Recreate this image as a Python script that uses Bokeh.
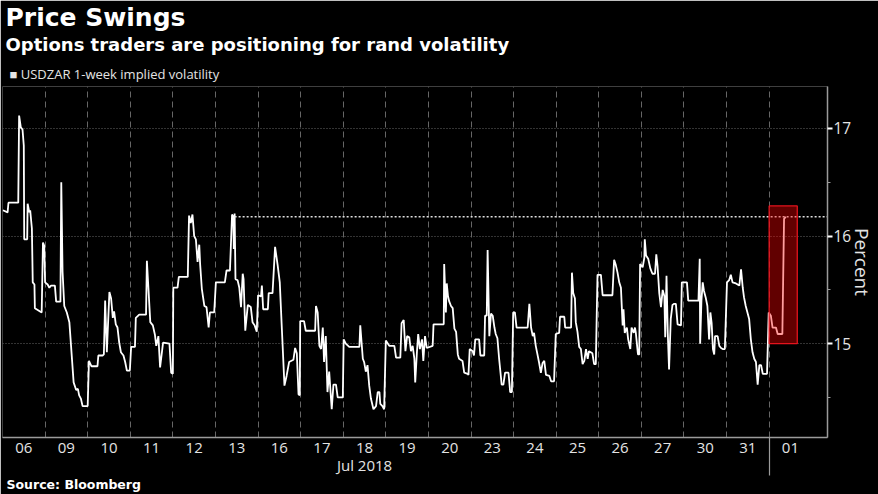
from bokeh.plotting import figure
from bokeh.models import Range1d, FixedTicker, LinearAxis, Title
from bokeh.embed import file_html
from bokeh.resources import INLINE

# Trading sessions shown on the x axis (Jul 6 .. Aug 1, 2018)
day_labels = ["06", "09", "10", "11", "12", "13", "16", "17", "18", "19",
              "20", "23", "24", "25", "26", "27", "30", "31", "01"]
month_label = "Jul 2018"
month_label_pos = 8.5
month_break = 18.0
series_name = "USDZAR 1-week implied volatility"

# Intraday USDZAR 1-week implied vol; position = trading days since the Jul 6 open
session_pos = [
    # Jul 06
    0.01, 0.12, 0.14, 0.37, 0.39, 0.43, 0.47, 0.50, 0.51, 0.58, 0.59, 0.63, 0.65, 0.69, 0.71, 0.75, 0.76, 0.92, 0.95, 0.98,
    # Jul 09
    1.00, 1.06, 1.10, 1.14, 1.23, 1.26, 1.36, 1.38, 1.41, 1.45, 1.51, 1.57, 1.67, 1.73, 1.77, 1.80, 1.84, 1.88, 2.00,
    # Jul 10
    2.03, 2.09, 2.23, 2.25, 2.35, 2.38, 2.41, 2.45, 2.51, 2.55, 2.59, 2.62, 2.66, 2.70, 2.74, 2.78, 2.84, 2.88, 2.92, 2.99,
    # Jul 11
    3.02, 3.11, 3.13, 3.21, 3.37, 3.39, 3.47, 3.53, 3.58, 3.61, 3.66, 3.70, 3.77, 3.92, 3.96, 4.00,
    # Jul 12
    4.01, 4.11, 4.14, 4.35, 4.38, 4.42, 4.46, 4.50, 4.54, 4.58, 4.62, 4.64, 4.68, 4.74, 4.79, 4.84, 4.87, 4.97,
    # Jul 13
    5.01, 5.22, 5.26, 5.34, 5.39, 5.42, 5.43, 5.45, 5.47, 5.52, 5.56, 5.60, 5.64, 5.66, 5.70, 5.76, 5.83, 5.87, 5.92, 5.97,
    # Jul 16
    6.00, 6.07, 6.09, 6.12, 6.23, 6.25, 6.34, 6.40, 6.46, 6.51, 6.56, 6.62, 6.67, 6.73, 6.83, 6.87, 6.91, 6.95, 6.98,
    # Jul 17
    6.99, 7.08, 7.12, 7.34, 7.36, 7.40, 7.44, 7.48, 7.52, 7.55, 7.59, 7.63, 7.67, 7.73, 7.77, 7.83, 7.87, 7.99,
    # Jul 18
    8.01, 8.06, 8.14, 8.38, 8.40, 8.46, 8.49, 8.53, 8.57, 8.61, 8.65, 8.71, 8.77, 8.81, 8.85, 8.87, 8.92, 8.96,
    # Jul 19
    9.00, 9.08, 9.20, 9.24, 9.34, 9.37, 9.42, 9.46, 9.50, 9.55, 9.59, 9.63, 9.67, 9.69, 9.73, 9.76, 9.80, 9.85, 9.88, 9.92, 9.96,
    # Jul 20
    10.10, 10.12, 10.36, 10.37, 10.41, 10.43, 10.46, 10.49, 10.53, 10.57, 10.61, 10.65, 10.69, 10.72, 10.80, 10.84, 10.92, 10.94,
    # Jul 23
    10.97, 11.04, 11.07, 11.10, 11.19, 11.22, 11.31, 11.33, 11.37, 11.39, 11.43, 11.47, 11.51, 11.55, 11.58, 11.62, 11.66, 11.72,
    11.76, 11.80, 11.88, 11.92, 11.96,
    # Jul 24
    11.99, 12.03, 12.07, 12.33, 12.37, 12.41, 12.45, 12.48, 12.52, 12.56, 12.60, 12.64, 12.68, 12.72, 12.76, 12.84, 12.88, 12.95,
    # Jul 25
    12.99, 13.07, 13.09, 13.19, 13.21, 13.35, 13.37, 13.40, 13.44, 13.46, 13.50, 13.54, 13.58, 13.62, 13.66, 13.70, 13.74, 13.77,
    13.85, 13.89, 13.93,
    # Jul 26
    13.97, 14.05, 14.09, 14.32, 14.36, 14.40, 14.44, 14.48, 14.52, 14.56, 14.58, 14.61, 14.66, 14.69, 14.74, 14.77, 14.82, 14.85,
    14.87, 14.92, 14.95,
    # Jul 27
    14.97, 15.03, 15.07, 15.08, 15.11, 15.16, 15.21, 15.26, 15.32, 15.35, 15.38, 15.42, 15.46, 15.50, 15.54, 15.56, 15.59, 15.62,
    15.65, 15.69, 15.73, 15.77, 15.81, 15.85, 15.93,
    # Jul 30
    15.95, 16.07, 16.10, 16.34, 16.37, 16.38, 16.41, 16.44, 16.47, 16.51, 16.55, 16.59, 16.62, 16.65, 16.68, 16.71, 16.73, 16.79,
    16.83, 16.87, 16.91, 16.96,
    # Jul 31
    17.01, 17.06, 17.10, 17.14, 17.22, 17.30, 17.34, 17.38, 17.41, 17.45, 17.49, 17.53, 17.57, 17.61, 17.65, 17.69, 17.73, 17.77,
    17.81, 17.85, 17.95,
    # Aug 01
    17.99, 18.04, 18.08, 18.16, 18.20, 18.31, 18.35, 18.39,
]

implied_vol = [
    # Jul 06
    16.24, 16.22, 16.31, 16.31, 17.12, 17.01, 16.99, 16.84, 15.97, 15.97, 16.30, 16.22, 16.24, 16.07, 15.57, 15.55, 15.33, 15.29, 15.94, 15.91,
    # Jul 09
    15.57, 15.55, 15.52, 15.54, 15.54, 15.39, 15.39, 16.50, 15.67, 15.35, 15.29, 15.20, 14.64, 14.57, 14.58, 14.52, 14.49, 14.42, 14.42,
    # Jul 10
    14.84, 14.79, 14.79, 14.89, 14.89, 14.90, 15.40, 14.92, 15.48, 15.42, 15.24, 15.30, 15.18, 15.15, 15.01, 14.92, 14.89, 14.83, 14.75, 14.75,
    # Jul 11
    14.97, 14.97, 15.24, 15.27, 15.27, 15.77, 15.20, 15.17, 15.08, 14.98, 15.07, 14.78, 15.01, 15.00, 14.73, 14.72,
    # Jul 12
    15.52, 15.52, 15.62, 15.62, 16.19, 16.12, 16.20, 16.00, 15.97, 15.76, 15.92, 15.74, 15.51, 15.35, 15.34, 15.15, 15.29, 15.29,
    # Jul 13
    15.57, 15.57, 15.68, 15.68, 16.20, 16.18, 15.88, 16.21, 15.60, 15.59, 15.52, 15.34, 15.65, 15.60, 15.12, 15.36, 15.34, 15.20, 15.17, 15.11,
    # Jul 16
    15.45, 15.44, 15.54, 15.32, 15.32, 15.47, 15.47, 15.90, 15.73, 15.57, 15.13, 14.61, 14.70, 14.83, 14.85, 14.96, 14.91, 14.53, 14.52,
    # Jul 17
    15.21, 15.21, 15.12, 15.12, 15.35, 15.29, 14.98, 14.95, 15.15, 14.83, 15.07, 14.55, 14.74, 14.39, 14.62, 14.62, 14.50, 14.50,
    # Jul 18
    15.04, 15.00, 14.97, 14.97, 15.17, 14.86, 14.83, 14.74, 14.80, 14.61, 14.49, 14.39, 14.42, 14.55, 14.55, 14.44, 14.42, 14.39,
    # Jul 19
    15.03, 14.98, 14.98, 14.87, 14.87, 15.19, 15.22, 14.93, 15.07, 15.06, 14.93, 14.98, 14.86, 14.64, 14.92, 15.09, 14.95, 15.04, 14.84, 15.07, 14.96,
    # Jul 20
    14.98, 15.18, 15.18, 15.74, 15.29, 15.56, 15.44, 15.39, 15.35, 15.33, 15.14, 15.11, 14.90, 14.86, 14.84, 14.73, 14.72, 14.71,
    # Jul 23
    14.95, 14.93, 14.89, 15.04, 15.04, 14.89, 14.89, 15.26, 15.26, 15.87, 15.07, 15.28, 15.26, 15.15, 15.09, 15.05, 14.86, 14.62,
    14.62, 14.73, 14.73, 14.55, 14.55,
    # Jul 24
    15.29, 15.29, 15.15, 15.15, 15.37, 15.15, 15.07, 15.10, 14.98, 14.90, 14.82, 14.73, 14.82, 14.84, 14.71, 14.70, 14.65, 14.65,
    # Jul 25
    15.09, 15.10, 15.25, 15.25, 15.15, 15.15, 15.66, 15.47, 15.42, 15.20, 15.11, 14.97, 14.95, 14.81, 14.84, 14.95, 14.86, 14.93,
    14.91, 14.81, 14.81,
    # Jul 26
    15.64, 15.64, 15.45, 15.45, 15.78, 15.73, 15.66, 15.57, 15.52, 15.17, 15.32, 15.10, 15.15, 15.04, 14.95, 15.15, 15.10, 15.15,
    15.10, 14.90, 14.90,
    # Jul 27
    15.74, 15.71, 15.80, 15.97, 15.82, 15.79, 15.70, 15.65, 15.65, 15.83, 15.72, 15.47, 15.34, 15.50, 15.44, 15.06, 15.63, 15.10,
    14.76, 15.23, 15.36, 15.37, 15.37, 15.18, 15.17,
    # Jul 30
    15.57, 15.57, 15.40, 15.40, 15.79, 15.00, 15.40, 15.57, 15.49, 15.43, 15.35, 15.04, 15.29, 15.19, 14.95, 14.90, 15.07, 15.07,
    14.98, 14.96, 14.95, 14.95,
    # Jul 31
    15.57, 15.59, 15.64, 15.57, 15.56, 15.54, 15.69, 15.52, 15.43, 15.35, 15.29, 15.23, 15.04, 14.92, 14.86, 14.83, 14.62, 14.80,
    14.80, 14.72, 14.72,
    # Aug 01
    15.29, 15.26, 15.15, 15.15, 15.09, 15.09, 16.16, 16.18,
]

# Highlighted latest session
highlight_left, highlight_right = 18.0, 18.66
highlight_bottom, highlight_top = 15.0, 16.28

x_start, x_end = 0.0, 19.37
y_start, y_end = 14.128, 17.39

GRID = "#666666"
AXIS = "#9b9b9b"
TEXT = "#e4e4e4"

p = figure(width=878, height=494, output_backend="svg", toolbar_location=None,
           x_range=Range1d(x_start, x_end), y_range=Range1d(y_start, y_end),
           y_axis_location="right",
           background_fill_color="black", border_fill_color="black",
           min_border_left=2, min_border_right=51, min_border_top=86, min_border_bottom=57)
p.outline_line_color = None

# Header: headline on top, then the subtitle, then the series key next to the plot
p.title.text = "Price Swings"
p.title.text_color = "white"
p.title.text_font = "DejaVu Sans"
p.title.text_font_size = "25px"
p.title.text_font_style = "bold"
p.title.align = "left"
p.title.offset = 3
p.title.standoff = -8

p.add_layout(Title(text="\u25a0 " + series_name,
                   text_color=TEXT, text_font="Open Sans",
                   text_font_size="13px", text_font_style="normal",
                   align="left", offset=7, standoff=8), "above")
p.add_layout(Title(text="Options traders are positioning for rand volatility",
                   text_color="white", text_font="DejaVu Sans",
                   text_font_size="18px", text_font_style="bold",
                   align="left", offset=3, standoff=8), "above")

# Right value axis
yax = p.yaxis[0]
yax.ticker = FixedTicker(ticks=[15, 16, 17], minor_ticks=[14.5, 15.5, 16.5])
yax.axis_line_color = AXIS
yax.axis_line_width = 1.5
yax.major_tick_line_color = "white"
yax.major_tick_line_width = 2
yax.major_tick_out = 5
yax.major_tick_in = 0
yax.minor_tick_line_color = AXIS
yax.minor_tick_out = 3
yax.minor_tick_in = 0
yax.major_label_text_color = TEXT
yax.major_label_text_font = "Open Sans"
yax.major_label_text_font_size = "15.5px"
yax.major_label_standoff = 1
yax.axis_label = "Percent"
yax.axis_label_text_color = TEXT
yax.axis_label_text_font = "Open Sans"
yax.axis_label_text_font_size = "19px"
yax.axis_label_text_font_style = "normal"
yax.axis_label_standoff = -5

# Bottom day axis; the long minor tick marks the month change
centers = [i + 0.5 for i in range(len(day_labels))]
xax = p.xaxis[0]
xax.ticker = FixedTicker(ticks=centers, minor_ticks=[month_break])
xax.major_label_overrides = {c: lab for c, lab in zip(centers, day_labels)}
xax.axis_line_color = AXIS
xax.axis_line_width = 1.5
xax.major_tick_line_color = None
xax.major_tick_out = 0
xax.major_tick_in = 0
xax.minor_tick_line_color = AXIS
xax.minor_tick_line_width = 1.2
xax.minor_tick_out = 38
xax.minor_tick_in = 0
xax.major_label_text_color = TEXT
xax.major_label_text_font = "Open Sans"
xax.major_label_text_font_size = "15px"
xax.major_label_standoff = -33

month_axis = LinearAxis(ticker=FixedTicker(ticks=[month_label_pos], minor_ticks=[]),
                        major_label_overrides={month_label_pos: month_label},
                        axis_line_color=None, major_tick_line_color=None,
                        minor_tick_line_color=None, major_tick_out=0, minor_tick_out=0,
                        major_label_standoff=-1,
                        major_label_text_color=TEXT, major_label_text_font="Open Sans",
                        major_label_text_font_size="15px")
p.add_layout(month_axis, "below")

p.add_layout(Title(text="Source: Bloomberg", text_color="white", text_font="DejaVu Sans",
                   text_font_size="12.5px", text_font_style="bold",
                   align="left", offset=4, standoff=-5), "below")

# Grid: dashed session boundaries, dotted value levels
p.xgrid.ticker = FixedTicker(ticks=list(range(1, len(day_labels))))
p.xgrid.grid_line_color = GRID
p.xgrid.grid_line_dash = "6 4"
p.xgrid.grid_line_width = 1
p.ygrid.ticker = FixedTicker(ticks=[15, 16, 17])
p.ygrid.grid_line_color = GRID
p.ygrid.grid_line_dash = "1 2"
p.ygrid.grid_line_width = 1

p.line(session_pos, implied_vol, line_color="white", line_width=1.8)

# Dotted level: latest print carried back to the last time vol was this high
level = implied_vol[-1]
prior = [i for i in range(len(implied_vol) - 2) if implied_vol[i] >= level]
level_start = session_pos[prior[-1]]
p.segment(x0=[level_start], y0=[level], x1=[x_end], y1=[level],
          line_color="#e0e0e0", line_width=1.6, line_dash="2 2")

p.quad(left=[highlight_left], right=[highlight_right],
       bottom=[highlight_bottom], top=[highlight_top],
       fill_color="red", fill_alpha=0.38, line_color="#e5131d", line_width=1.3)

open("out.html", "w").write(file_html(p, INLINE))
